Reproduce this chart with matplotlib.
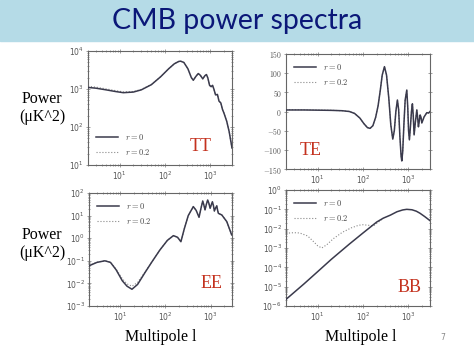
import matplotlib
matplotlib.use("Agg")
import matplotlib.pyplot as plt
from matplotlib.patches import Rectangle
from matplotlib.ticker import FuncFormatter, MultipleLocator

plt.rcParams["mathtext.fontset"] = "cm"

# TT spectrum (multipole, D_l in uK^2)
tt_l = [2, 3, 5, 8, 12, 20, 30, 50, 80, 120, 160, 200, 220, 260, 320, 380, 420,
        480, 540, 600, 680, 760, 820, 880, 960, 1040, 1120, 1200, 1300, 1430,
        1550, 1700, 1850, 2000, 2300, 2600, 3000]
tt_r0 = [1100, 1050, 950, 860, 800, 830, 950, 1300, 2100, 3400, 4600, 5300, 5400,
         5000, 3400, 2000, 1700, 2150, 2550, 2300, 1850, 2250, 2400, 1950, 1250,
         1150, 1250, 980, 700, 720, 480, 430, 290, 230, 140, 75, 28]
tt_r02 = [1180, 1120, 1010, 910, 840, 860, 975, 1320, 2110, 3400, 4600, 5300, 5400,
          5000, 3400, 2000, 1700, 2150, 2550, 2300, 1850, 2250, 2400, 1950, 1250,
          1150, 1250, 980, 700, 720, 480, 430, 290, 230, 140, 75, 28]

# TE spectrum
te_l = [2, 5, 10, 20, 35, 50, 65, 85, 105, 125, 143, 165, 190, 215, 240, 265, 297,
        330, 370, 410, 453, 490, 530, 573, 610, 650, 690, 716, 750, 800, 850, 923,
        970, 1010, 1054, 1110, 1170, 1228, 1280, 1339, 1420, 1536, 1600, 1667,
        1740, 1817, 1900, 1980, 2100, 2224, 2400, 2553, 2800, 3000]
te_r0 = [4, 4, 3.5, 3, 2, 0, -5, -17, -32, -42, -44, -37, -15, 15, 55, 95, 117,
         95, 35, -35, -72, -50, 0, 30, 5, -65, -115, -129, -105, -30, 30, 56,
         10, -50, -74, -40, 0, 20, -10, -61, -30, 4, -15, -40,
         -25, -9, -15, -30, -22, -14, -8, -3, -4, 0]
te_r02 = [5, 4.5, 4, 3.2, 2, 0, -5, -17, -32, -42, -44, -37, -15, 15, 55, 95, 117,
          95, 35, -35, -72, -50, 0, 30, 5, -65, -115, -129, -105, -30, 30, 56,
          10, -50, -74, -40, 0, 20, -10, -61, -30, 4, -15, -40,
          -25, -9, -15, -30, -22, -14, -8, -3, -4, 0]

# EE spectrum
ee_l = [2, 3, 4.5, 6, 8, 11, 14, 18, 24, 35, 50, 75, 110, 150, 185, 220, 260, 320,
        415, 480, 556, 610, 671, 710, 755, 810, 865, 920, 980, 1040, 1100, 1160,
        1217, 1300, 1377, 1440, 1494, 1780, 2300, 2950]
ee_r0 = [0.06, 0.085, 0.1, 0.085, 0.04, 0.013, 0.0075, 0.0055, 0.009, 0.03, 0.09,
         0.3, 0.8, 1.3, 1.1, 0.7, 2.5, 10, 25, 17, 8.4, 20, 44, 30, 18, 32, 49,
         35, 21, 30, 41, 28, 16, 22, 27, 17, 12.6, 10.7, 5.4, 1.4]
ee_r02 = [0.062, 0.087, 0.1, 0.087, 0.043, 0.016, 0.0095, 0.0075, 0.011, 0.032, 0.09,
          0.3, 0.8, 1.3, 1.1, 0.7, 2.5, 10, 25, 17, 8.4, 20, 44, 30, 18, 32, 49,
          35, 21, 30, 41, 28, 16, 22, 27, 17, 12.6, 10.7, 5.4, 1.4]

# BB spectrum
bb_l = [2, 5, 10, 20, 50, 100, 200, 280, 400, 560, 750, 920, 1200, 1500, 1800,
        2300, 3000]
bb_r0 = [2.2e-6, 1.4e-5, 6e-5, 2.6e-4, 1.6e-3, 6e-3, 0.022, 0.035, 0.05, 0.075,
         0.093, 0.1, 0.095, 0.08, 0.063, 0.042, 0.026]
bb_l_r02 = [2, 3, 4, 6, 8, 10, 12.3, 16, 22, 35, 55, 80, 100, 130, 170, 220, 280]
bb_r02 = [0.0058, 0.0062, 0.006, 0.0042, 0.0022, 0.0013, 0.001, 0.0015, 0.003,
          0.0065, 0.011, 0.015, 0.016, 0.015, 0.014, 0.022, 0.035]

W, H = 474, 355
line_col = "#3a3a4c"
dot_col = "#8a8a8a"
red = "#c4321f"
tick_col = "#555555"


def px_axes(fig, x0, y0, x1, y1):
    return fig.add_axes([x0 / W, 1 - y1 / H, (x1 - x0) / W, (y1 - y0) / H])


def style(ax):
    for s in ax.spines.values():
        s.set_color("#666666")
        s.set_linewidth(0.8)
    ax.tick_params(which="both", direction="inout", top=True, right=True,
                   colors="#777777", labelcolor=tick_col, labelsize=5.5,
                   pad=1.5, width=0.5)
    ax.tick_params(which="major", length=3)
    ax.tick_params(which="minor", length=1.8)
    ax.set_xscale("log")
    ax.set_xlim(2, 3000)


fig = plt.figure(figsize=(W / 100, H / 100), dpi=100)
fig.patches.append(Rectangle((0, 1 - 41 / H), 1, 41 / H, transform=fig.transFigure,
                             color="#b5dbe7", zorder=0))
fig.text(0.5, 1 - 21 / H, "CMB power spectra", ha="center", va="center",
         fontsize=20.5, color="#0b1778", family="Lato")

panels = [
    ((88, 51, 232, 165), tt_l, tt_r0, tt_l, tt_r02, "TT", "lower left", (1e1, 1e4)),
    ((286, 54, 430, 169), te_l, te_r0, te_l, te_r02, "TE", "upper left", (-150, 150)),
    ((89, 193, 232, 306), ee_l, ee_r0, ee_l, ee_r02, "EE", "upper left", (1e-3, 1e2)),
    ((286, 190, 430, 306), bb_l, bb_r0, bb_l_r02, bb_r02, "BB", "upper left", (1e-6, 1)),
]
label_pos = {"TT": (0.78, 0.16), "TE": (0.17, 0.16), "EE": (0.86, 0.2), "BB": (0.86, 0.16)}

for box, l0, y0, l2, y2, name, loc, ylim in panels:
    ax = px_axes(fig, *box)
    style(ax)
    ax.plot(l0, y0, color=line_col, lw=1.1, label=r"$r=0$", zorder=3)
    ax.plot(l2, y2, color=dot_col, lw=0.8, ls=":", label=r"$r=0.2$", zorder=2)
    if name == "TE":
        ax.set_yscale("linear")
        ax.yaxis.set_major_locator(MultipleLocator(50))
        ax.yaxis.set_major_formatter(FuncFormatter(lambda v, p: r"$%d$" % v))
    else:
        ax.set_yscale("log")
    ax.set_ylim(*ylim)
    leg = ax.legend(loc=loc, frameon=False, fontsize=6, handlelength=2.6,
                    labelspacing=0.6, borderaxespad=0.6)
    for t in leg.get_texts():
        t.set_color("#444444")
    ax.text(*label_pos[name], name, transform=ax.transAxes, ha="center",
            va="center", fontsize=13, color=red, family="Liberation Serif")

for y in (108, 244):
    fig.text(42 / W, 1 - y / H, "Power\n(\u03bcK^2)", ha="center", va="center",
             fontsize=11.5, family="Liberation Serif", linespacing=1.15)
for x in (161, 361):
    fig.text(x / W, 1 - 337 / H, "Multipole l", ha="center", va="center",
             fontsize=11.5, family="Liberation Serif")
fig.text(443 / W, 1 - 337 / H, "7", ha="center", va="center", fontsize=5.5,
         color="#888888")

fig.savefig("out.png", dpi=100)
